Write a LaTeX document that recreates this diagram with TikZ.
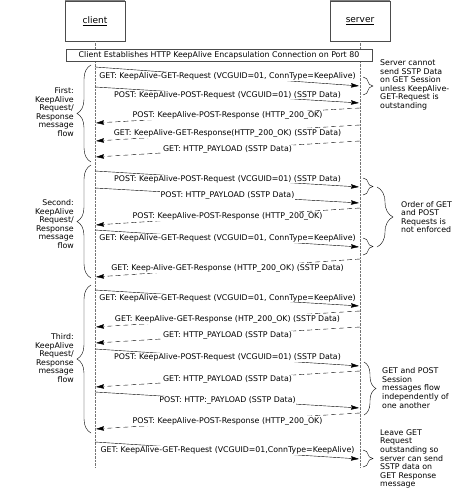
\documentclass[tikz,border=0pt]{standalone}
\usepackage{fontspec}
\setmainfont{DejaVu Sans}
\usetikzlibrary{arrows.meta,calc,decorations.pathreplacing}
\tikzset{>={Stealth[length=8pt,width=4.5pt,inset=1pt]},every node/.style={font=\fontsize{7.85}{8.6}\selectfont,text=black},
call/.style={thin,->,shorten >=1pt},reply/.style={thin,->,dash pattern=on 5pt off 3pt,shorten >=1pt},
lbl/.style={fill=white,inner sep=.6pt,midway},life/.style={densely dotted,black!55},
curly/.style={decorate,decoration={brace,amplitude=#1},thin},curly/.default=10,
note/.style={align=left,anchor=west,inner sep=0pt},side/.style={align=right,anchor=east,inner sep=0pt},
actor/.style={draw=black!70,minimum width=60pt,minimum height=40pt,font=\fontsize{9}{11}\selectfont}}

\begin{document}
\begin{tikzpicture}[x=1pt,y=-1pt]
\useasboundingbox (0,0) rectangle (474,496);
% lifelines
\node[actor] (client) at (95,21) {\underline{client}};\node[actor] (server) at (360,21) {\underline{server}};
\draw[line width=1.2pt,black!50] (client.north west)--(client.north east);\draw[line width=1.2pt,black!50] (server.north west)--(server.north east);
\coordinate (cend) at (95,467);\coordinate (send) at (360,467);
\draw[life] (client.south)--(cend);\draw[life] (server.south)--(send);
\node[draw=black!70,fill=white,minimum width=306pt,minimum height=12pt,inner sep=0pt] (conn) at (219,55) {Client Establishes HTTP KeepAlive Encapsulation Connection on Port 80};
% first flow
\coordinate (c1) at (95,67);\coordinate (s1) at (360,86);\draw[call] (c1) -- node[lbl](m1){GET: KeepAlive-GET-Request (VCGUID=01, ConnType=KeepAlive)} (s1);
\coordinate (c2) at (95,87);\coordinate (s2) at (360,103);\draw[call] (c2) -- node[lbl](m2){POST: KeepAlive-POST-Request (VCGUID=01) (SSTP Data)} (s2);
\coordinate (s3) at (360,108);\coordinate (c3) at (95,123);\draw[reply] (s3) -- node[lbl](m3){POST: KeepAlive-POST-Response (HTTP\_200\_OK)} (c3);
\coordinate (s4) at (360,125);\coordinate (c4) at (95,141);\draw[reply] (s4) -- node[lbl](m4){GET: KeepAlive-GET-Response(HTTP\_200\_OK) (SSTP Data)} (c4);
\coordinate (s5) at (360,141);\coordinate (c5) at (95,157);\draw[reply] (s5) -- node[lbl](m5){GET: HTTP\_PAYLOAD (SSTP Data)} (c5);
% second flow
\coordinate (c6) at (95,171);\coordinate (s6) at (360,187);\draw[call] (c6) -- node[lbl](m6){POST: KeepAlive-POST-Request (VCGUID=01) (SSTP Data)} (s6);
\coordinate (c7) at (95,188);\coordinate (s7) at (360,203);\draw[call] (c7) -- node[lbl](m7){POST: HTTP\_PAYLOAD (SSTP Data)} (s7);
\coordinate (s8) at (360,208);\coordinate (c8) at (95,225);\draw[reply] (s8) -- node[lbl](m8){POST: KeepAlive-POST-Response (HTTP\_200\_OK)} (c8);
\coordinate (c9) at (95,230);\coordinate (s9) at (360,247);\draw[call] (c9) -- node[lbl](m9){GET: KeepAlive-GET-Request (VCGUID=01, ConnType=KeepAlive)} (s9);
\coordinate (s10) at (360,259);\coordinate (c10) at (95,277);\draw[reply] (s10) -- node[lbl](m10){GET: Keep-Alive-GET-Response (HTTP\_200\_OK) (SSTP Data)} (c10);
% third flow
\coordinate (c11) at (95,290);\coordinate (s11) at (360,306);\draw[call] (c11) -- node[lbl](m11){GET: KeepAlive-GET-Request (VCGUID=01, ConnType=KeepAlive)} (s11);
\coordinate (s12) at (360,311);\coordinate (c12) at (95,327);\draw[reply] (s12) -- node[lbl](m12){GET: KeepAlive-GET-Response (HTP\_200\_OK) (SSTP Data)} (c12);
\coordinate (s13) at (360,327);\coordinate (c13) at (95,343);\draw[reply] (s13) -- node[lbl](m13){GET: HTTP\_PAYLOAD (SSTP Data)} (c13);
\coordinate (c14) at (95,349);\coordinate (s14) at (360,366);\draw[call] (c14) -- node[lbl](m14){POST: KeepAlive-POST-Request (VCGUID=01) (SSTP Data)} (s14);
\coordinate (s15) at (360,371);\coordinate (c15) at (95,387);\draw[reply] (s15) -- node[lbl](m15){GET: HTTP\_PAYLOAD (SSTP Data)} (c15);
\coordinate (c16) at (95,392);\coordinate (s16) at (360,408);\draw[call] (c16) -- node[lbl](m16){POST: HTTP:\_PAYLOAD (SSTP Data)} (s16);
\coordinate (s17) at (360,413);\coordinate (c17) at (95,429);\draw[reply] (s17) -- node[lbl](m17){POST: KeepAlive-POST-Response (HTTP\_200\_OK)} (c17);
\coordinate (c18) at (95,442);\coordinate (s18) at (360,459);\draw[call] (c18) -- node[lbl](m18){GET: KeepAlive-GET-Request (VCGUID=01,ConnType=KeepAlive)} (s18);
% left braces
\draw[curly=14] (91,162)--(91,65);\node[side] (f1) at (74,112) {First:\\KeepAlive\\Request/\\Response\\message\\flow};
\draw[curly=14] (91,278)--(91,165);\node[side] (f2) at (74,224) {Second:\\KeepAlive\\Request/\\Response\\message\\flow};
\draw[curly=14] (91,433)--(91,285);\node[side] (f3) at (74,358) {Third:\\KeepAlive\\Request/\\Response\\message\\flow};
% right braces
\draw[curly] (363,77)--(363,95);\node[note] (n1) at (380,85) {Server cannot\\send SSTP Data\\on GET Session\\unless KeepAlive-\\GET-Request is\\outstanding};
\draw[curly] (363,178)--(363,195);\coordinate (r2) at (377,187);
\draw[curly] (363,238)--(363,255);\coordinate (r3) at (377,247);
\draw[curly=16] (r2)--(r3);\node[note] (n2) at (401,217) {Order of GET\\and POST\\Requests is\\not enforced};
\draw[curly=12] (364,362)--(364,415);\node[note] (n3) at (382,388) {GET and POST\\Session\\messages flow\\independently of\\one another};
\draw[curly] (363,450)--(363,467);\node[note] (n4) at (380,459) {Leave GET\\Request\\outstanding so\\server can send\\SSTP data on\\GET Response\\message};
\end{tikzpicture}
\end{document}
